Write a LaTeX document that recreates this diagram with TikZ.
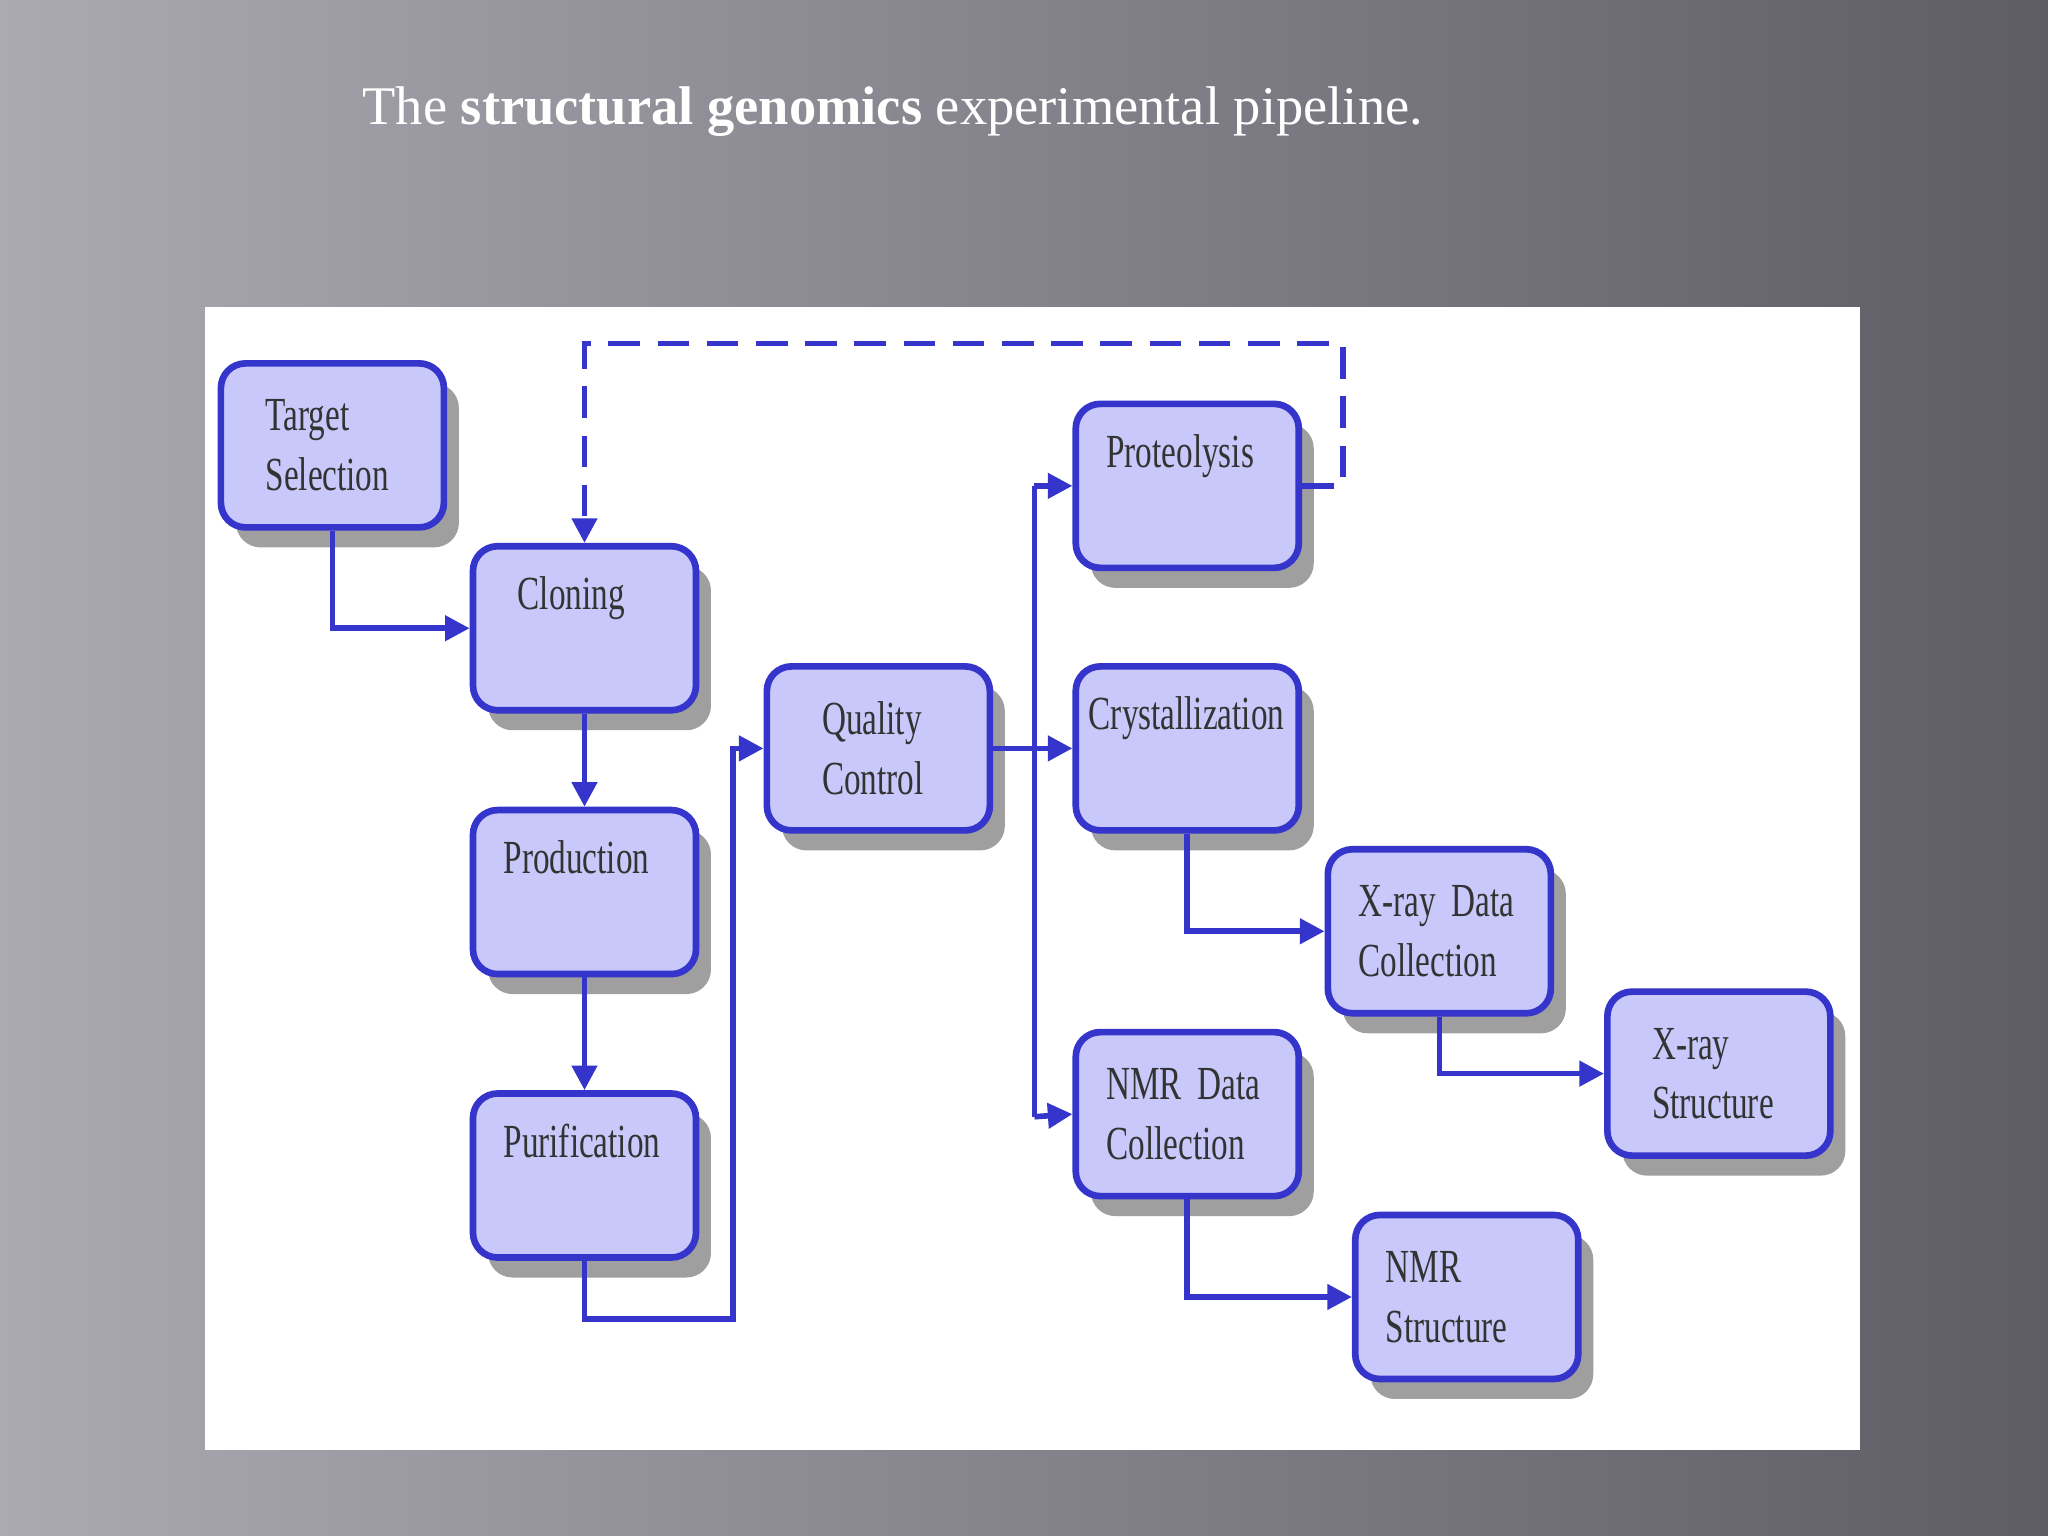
\documentclass[tikz,border=0pt]{standalone}
\usepackage{fontspec}
\setmainfont{Liberation Serif}
\newfontfamily\boxfont[FakeStretch=0.70]{Liberation Serif}
\usetikzlibrary{shadows,arrows.meta}
\definecolor{bfill}{HTML}{C8C8FA}
\definecolor{bline}{HTML}{3535CC}
\definecolor{bglight}{HTML}{ABA9B2}
\definecolor{bgdark}{HTML}{5E5C64}
\tikzset{
  box/.style={draw=bline, line width=1.9pt, fill=bfill, rounded corners=7pt,
    minimum width=2.23cm, minimum height=1.64cm, text width=2.11cm, inner xsep=0.06cm,
    align=left, font=\boxfont\fontsize{13.5}{17}\selectfont, text=black!80,
    drop shadow={fill=gray!75, opacity=1, shadow xshift=0.15cm, shadow yshift=-0.2cm}},
  conn/.style={draw=bline, line width=1.6pt, -{Triangle[length=7pt,width=7pt]}}
}
\begin{document}
\begin{tikzpicture}[x=0.01306cm,y=-0.01306cm]
\shade[left color=bglight, right color=bgdark] (0,0) rectangle (1568,1176);
\useasboundingbox (0,0) rectangle (1568,1176);
\node[anchor=base west, text=white, font=\fontsize{15.5}{19}\selectfont, inner sep=0] (title) at (277,95) {The \textbf{structural genomics} experimental pipeline.};
\fill[white] (157,235) rectangle (1424,1110);
\node[box] (ts) at (254.5,341) {\hspace*{11pt}Target\\\hspace*{11pt}Selection};
\node[box] (cl) at (447.5,481) {\hspace*{11pt}Cloning\\[3pt]\mbox{}};
\node[box] (pr) at (447.5,683) {\hspace*{7pt}Production\\[3pt]\mbox{}};
\node[box] (pu) at (447.5,900) {\hspace*{7pt}Purification\\[3pt]\mbox{}};
\node[box] (qc) at (672.5,573) {\hspace*{14pt}Quality\\\hspace*{14pt}Control};
\node[box] (po) at (909,372) {\hspace*{7pt}Proteolysis\\[3pt]\mbox{}};
\node[box] (cr) at (909,573) {\hspace*{2pt}Crystallization\\[3pt]\mbox{}};
\node[box] (xd) at (1102,713) {\hspace*{7pt}X-ray Data\\\hspace*{7pt}Collection};
\node[box] (xs) at (1316,822) {\hspace*{11pt}X-ray\\\hspace*{11pt}Structure};
\node[box] (nd) at (909,853) {\hspace*{7pt}NMR Data\\\hspace*{7pt}Collection};
\node[box] (ns) at (1123,993) {\hspace*{7pt}NMR\\\hspace*{7pt}Structure};
\coordinate (trunkT) at (792,372);
\coordinate (trunkB) at (792,855);
\draw[conn] (ts.south) |- (cl.west);
\draw[conn] (cl.south) -- (pr.north);
\draw[conn] (pr.south) -- (pu.north);
\draw[conn] (pu.south) -- (447.5,1010) -- (561,1010) |- (qc.west);
\draw[conn] (qc.east) -- (cr.west);
\draw[draw=bline, line width=1.6pt] (trunkT) -- (trunkB);
\draw[conn] (trunkT) -- (po.west);
\draw[conn] (trunkB) -- (nd.west);
\draw[conn] (cr.south) |- (xd.west);
\draw[conn] (xd.south) |- (xs.west);
\draw[conn] (nd.south) |- (ns.west);
\draw[conn, dashed, dash pattern=on 9pt off 5pt] (po.east) -- (1028,372) -- (1028,263) -- (447.5,263) -- (cl.north);
\end{tikzpicture}
\end{document}
